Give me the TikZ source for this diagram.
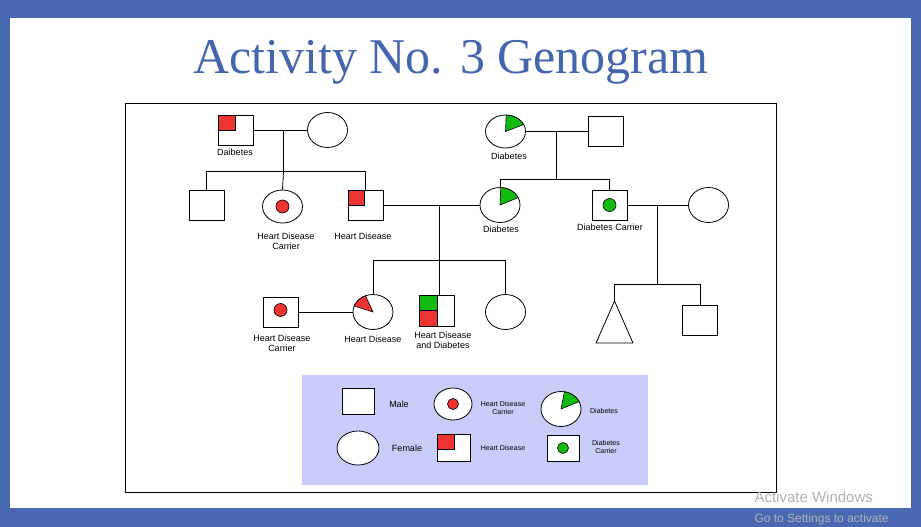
\documentclass[tikz,border=0pt]{standalone}
\usepackage{fontspec}
\setmainfont{Liberation Sans}
\newfontfamily\titlefont{Liberation Serif}
\usetikzlibrary{shapes.geometric}
\definecolor{frame}{HTML}{4A67B1}
\definecolor{ttl}{HTML}{4466AE}
\definecolor{hred}{HTML}{EE3333}
\definecolor{dgreen}{HTML}{11BB11}
\definecolor{leg}{HTML}{C9CBF8}
\begin{document}
\begin{tikzpicture}[x=1pt,y=-1pt,
  male/.style={draw,line width=0.8pt,minimum width=35pt,minimum height=30pt,inner sep=0pt,fill=white},
  female/.style={draw,line width=0.8pt,ellipse,minimum width=40pt,minimum height=35pt,inner sep=0pt,fill=white},
  lbl/.style={font=\fontsize{9}{10}\selectfont,align=center,inner sep=1pt},
  slbl/.style={font=\fontsize{7}{8}\selectfont,align=center,inner sep=1pt},
  ln/.style={line width=0.8pt},
  dot/.style={draw,line width=0.6pt,circle,minimum size=13pt,inner sep=0pt}]
\useasboundingbox (0,0) rectangle (921,527);
\fill[frame] (0,0) rectangle (921,527);
\fill[white] (10,18) rectangle (911,508);
\node[text=ttl,font=\titlefont\fontsize{50}{54}\selectfont] (title) at (451,62) {Activity No. 3 Genogram};
\draw[line width=0.8pt] (125,103) rectangle (776,492);
% generation 1 left
\node[male] (gf) at (235.5,130) {};
\fill[hred] (218,115) rectangle (235,130); \draw[line width=0.6pt] (218,115) rectangle (235,130);
\node[lbl] (gfl) at (235,152.5) {Daibetes};
\node[female] (gm) at (327.5,130) {};
\draw[ln] (gf.east) -- (gm.west);
\coordinate (j1) at (283.5,130); \coordinate (j1b) at (283.5,171.5);
\draw[ln] (j1) -- (j1b);
\node[male] (c1) at (206.5,205) {};
\node[female,minimum height=33pt] (c2) at (282.5,206.5) {};
\node[dot,fill=hred] (c2d) at (282.5,206.5) {};
\node[lbl] (c2l) at (286,241) {Heart Disease\\Carrier};
\node[male] (c3) at (365.5,205) {};
\fill[hred] (348,190) rectangle (364,205); \draw[line width=0.6pt] (348,190) rectangle (364,205);
\node[lbl] (c3l) at (363,236) {Heart Disease};
\draw[ln] (c1.north) -- (206.5,171.5) -- (365.5,171.5) -- (c3.north);
\draw[ln] (j1b) -- (c2.north);
% generation 1 right
\node[female,minimum height=33pt] (rgm) at (505.5,131.5) {};
\filldraw[fill=dgreen,line width=0.6pt] (505.5,131.5) -- +(88:20pt and 16.5pt) arc[start angle=88,end angle=25,x radius=20pt,y radius=16.5pt] -- cycle;
\node[lbl] (rgml) at (509,156.5) {Diabetes};
\node[male] (rgf) at (605.5,131.5) {};
\draw[ln] (rgm.east) -- (rgf.west);
\coordinate (j2) at (556,131.5); \coordinate (j2b) at (556,179);
\draw[ln] (j2) -- (j2b);
\node[female] (mo) at (500,205) {};
\filldraw[fill=dgreen,line width=0.6pt] (500,205) -- +(88:20pt and 17.5pt) arc[start angle=88,end angle=25,x radius=20pt,y radius=17.5pt] -- cycle;
\node[lbl] (mol) at (501,229) {Diabetes};
\node[male] (dc) at (609.5,205) {};
\node[dot,fill=dgreen] (dcd) at (609.5,205) {};
\node[lbl] (dcl) at (610,227.5) {Diabetes Carrier};
\node[female] (dcw) at (708.5,205) {};
\draw[ln] (mo.north) -- (500,179) -- (609.5,179) -- (dc.north);
\draw[ln] (dc.east) -- (dcw.west);
\coordinate (j3) at (657.5,205); \coordinate (j3b) at (657.5,284);
\draw[ln] (j3) -- (j3b);
\coordinate (tri) at (614.5,301);
\filldraw[fill=white,line width=0.8pt] (tri) -- (633,343) -- (596,343) -- cycle;
\node[male] (sq) at (700,320.5) {};
\draw[ln] (tri) -- (614.5,284) -- (700,284) -- (sq.north);
% parents couple
\draw[ln] (c3.east) -- (mo.west);
\coordinate (j4) at (439,205); \coordinate (j4b) at (439,260);
\draw[ln] (j4) -- (j4b);
% generation 3
\node[female] (g1) at (373,312) {};
\filldraw[fill=hred,line width=0.6pt] (373,312) -- +(112:20pt and 17.5pt) arc[start angle=112,end angle=160,x radius=20pt,y radius=17.5pt] -- cycle;
\node[lbl] (g1l) at (373,339) {Heart Disease};
\node[male] (g1h) at (280.5,312) {};
\node[dot,fill=hred] (g1hd) at (280.5,310) {};
\node[lbl] (g1hl) at (282,343) {Heart Disease\\Carrier};
\draw[ln] (g1h.east) -- (g1.west);
\node[male,minimum height=31pt] (g2) at (437,310.5) {};
\fill[dgreen] (419.5,295) rectangle (437,310.5); \fill[hred] (419.5,310.5) rectangle (437,326);
\draw[line width=0.6pt] (419.5,295) rectangle (437,326) (419.5,310.5) -- (437,310.5);
\node[lbl] (g2l) at (443,340.5) {Heart Disease\\and Diabetes};
\node[female] (g3) at (505.5,312) {};
\draw[ln] (g1.north) -- (373,260) -- (505.5,260) -- (g3.north);
\draw[ln] (j4b) -- (g2.north -| j4b);
% legend
\fill[leg] (302,375) rectangle (648,485);
\node[male,minimum width=32pt,minimum height=26pt] (lm) at (358,401) {};
\node[lbl] (lml) at (399,404) {Male};
\node[female,minimum width=38pt,minimum height=32pt] (lc) at (453,404) {};
\node[dot,fill=hred,minimum size=11pt] (lcd) at (453,404) {};
\node[slbl] (lcl) at (503,408) {Heart Disease\\Carrier};
\node[female,minimum width=40pt,minimum height=35pt] (ld) at (561,409) {};
\filldraw[fill=dgreen,line width=0.6pt] (561,409) -- +(80:20pt and 17.5pt) arc[start angle=80,end angle=25,x radius=20pt,y radius=17.5pt] -- cycle;
\node[slbl] (ldl) at (604,411) {Diabetes};
\node[female,minimum width=42pt,minimum height=34pt] (lf) at (358,448) {};
\node[lbl] (lfl) at (407,448) {Female};
\node[male,minimum width=33pt,minimum height=27pt] (lh) at (453.5,447.5) {};
\fill[hred] (437,434) rectangle (454,449); \draw[line width=0.6pt] (437,434) rectangle (454,449);
\node[slbl] (lhl) at (503,448) {Heart Disease};
\node[male,minimum width=32pt,minimum height=26pt] (ldc) at (563,448) {};
\node[dot,fill=dgreen,minimum size=11pt] (ldcd) at (563,448) {};
\node[slbl] (ldcl) at (606,447) {Diabetes\\Carrier};
% watermark
\node[text=gray!60,anchor=west,font=\fontsize{15}{17}\selectfont] (wm1) at (751,497) {Activate Windows};
\node[text=gray!60,anchor=west,font=\fontsize{12}{14}\selectfont] (wm2) at (751,519) {Go to Settings to activate};
\end{tikzpicture}
\end{document}
